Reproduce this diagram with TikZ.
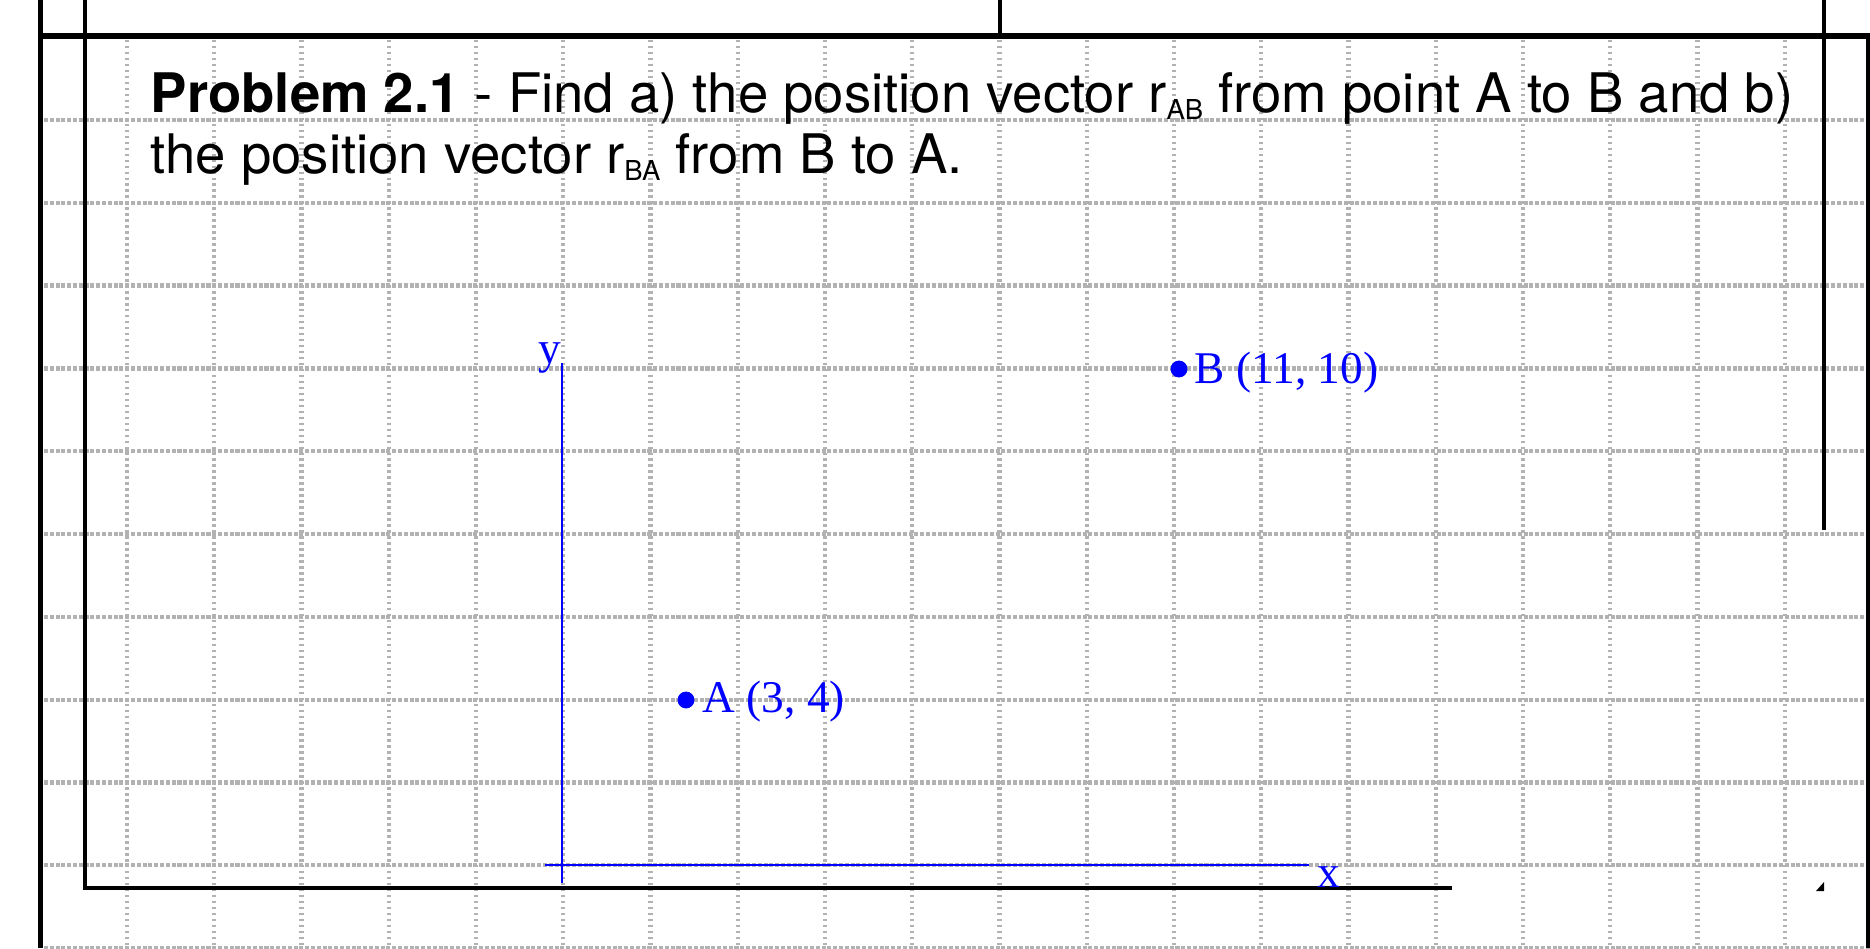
\documentclass[tikz,border=0pt]{standalone}
\usepackage{fontspec}
\setmainfont{Liberation Serif}
\newfontfamily\helv{TeX Gyre Heros}
\usetikzlibrary{positioning}

\newcommand{\lowsub}[1]{\raisebox{-2pt}{\fontsize{7.8}{8}\selectfont #1}}

\tikzset{
  gridh/.style={gray!60, line width=1.2pt, dash pattern=on 1.15pt off 0.5pt},
  gridv/.style={gray!60, line width=1.2pt, dash pattern=on 0.7pt off 1.0pt},
  frame/.style={black, line width=1.2pt},
  thickframe/.style={black, line width=1.6pt},
  axis/.style={blue, line width=0.45pt},
  ptdot/.style={circle, fill=blue, inner sep=0pt, minimum size=4.8pt},
  ptlabel/.style={blue, font=\fontsize{12.9}{14}\selectfont, inner sep=0pt, anchor=base west},
  probtext/.style={font=\helv\fontsize{15.5}{17}\selectfont, inner sep=0pt, anchor=base west}
}

\begin{document}
\begin{tikzpicture}[x=0.01cm, y=-0.01cm]
      \useasboundingbox (0,0) rectangle (1870,948);

      % grid
      \foreach \k in {0,...,10}
        \draw[gridh] (44,120+82.8*\k) -- (1870,120+82.8*\k);
      \foreach \k in {0,...,19}
        \draw[gridv] (127+87.25*\k,40) -- (127+87.25*\k,948);

      % frame
      \draw[thickframe] (40.5,0) -- (40.5,948);
      \draw[thickframe] (38,36) -- (1870,36);
      \draw[frame] (85,0) -- (85,888) -- (1452,888);
      \draw[frame] (1000,0) -- (1000,36);
      \draw[frame] (1824,0) -- (1824,530);
      \draw[frame] (1868,36) -- (1868,948);
      \fill (1816,891) -- (1824,891) -- (1824,882) -- cycle;

      % problem text
      \begin{scope}[every node/.style={probtext}]
        \node (line1) at (150,112) {\textbf{Problem 2.1} - Find a) the position vector r\lowsub{AB} from point A to B and b)};
        \node (line2) at (150,173) {the position vector r\lowsub{BA} from B to A.};
      \end{scope}

      % axes
      \coordinate (ytop) at (562,363);
      \coordinate (ybot) at (562,883);
      \coordinate (xleft) at (545,865);
      \coordinate (xright) at (1309,865);
      \draw[axis] (ytop) -- (ybot);
      \draw[axis] (xleft) -- (xright);

      \begin{scope}[every node/.style={ptlabel}]
        \node (ylab) at (538,363) {y};
        \node (xlab) at (1317,887) {x};
        \node (labA) at (702,712) {A (3, 4)};
        \node (labB) at (1194,383) {B (11, 10)};
      \end{scope}

      \node[ptdot] (A) at (686,700) {};
      \node[ptdot] (B) at (1179,369) {};

    \end{tikzpicture}
\end{document}
